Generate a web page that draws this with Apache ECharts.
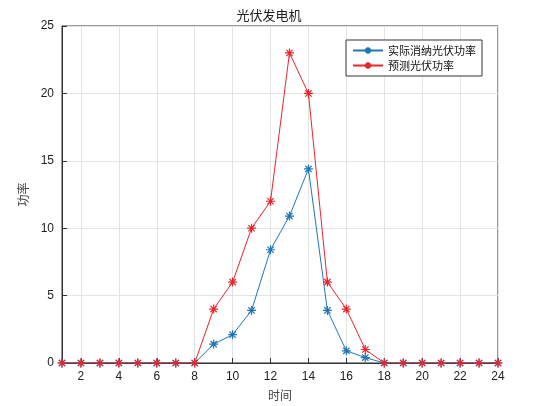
<!DOCTYPE html>
<html><head><meta charset="utf-8">
<script src="https://cdn.jsdelivr.net/npm/echarts@6/dist/echarts.min.js"></script>
<style>html,body{margin:0;padding:0;background:#fff}#main{width:538px;height:406px}</style>
</head><body><div id="main"></div>
<script>
var hours = [];
for (var h = 1; h <= 24; h++) hours.push(String(h));
var actual = [0,0,0,0,0,0,0,0,1.4,2.1,3.9,8.4,10.9,14.4,3.9,0.9,0.4,0,0,0,0,0,0,0];
var forecast = [0,0,0,0,0,0,0,0,4,6,10,12,23,20,6,4,1,0,0,0,0,0,0,0];

var even = function (i) { return (i + 1) % 2 === 0; };
var star = "path://M0,-5L0,5M-5,0L5,0M-3.5,-3.5L3.5,3.5M-3.5,3.5L3.5,-3.5";
var myChart = echarts.init(document.getElementById("main"));
myChart.setOption({
  animation: false,
  title: {
    text: "光伏发电机", left: "center", top: 4,
    textStyle: { fontSize: 13, fontWeight: "normal", color: "#222", fontFamily: "Noto Sans CJK SC" }
  },
  legend: {
    orient: "vertical", right: 56, top: 40,
    backgroundColor: "#fff", borderColor: "#333", borderWidth: 1, borderRadius: 0,
    padding: [5, 6], itemGap: 4, itemWidth: 30, itemHeight: 8,
    textStyle: { fontSize: 11, color: "#111", fontFamily: "Noto Sans CJK SC" },
    data: ["实际消纳光伏功率", "预测光伏功率"]
  },
  grid: { left: 62, right: 40, top: 26, bottom: 31, show: true, borderColor: "#333", borderWidth: 1 },
  xAxis: {
    type: "category", data: hours, boundaryGap: false,
    name: "时间", nameLocation: "middle", nameGap: 26,
    nameTextStyle: { fontSize: 12, color: "#444", fontFamily: "Noto Sans CJK SC" },
    axisLine: { lineStyle: { color: "#333" } },
    axisTick: { show: true, inside: true, interval: even, lineStyle: { color: "#333" } },
    axisLabel: { interval: even, color: "#222", fontSize: 12, margin: 8 },
    splitLine: { show: true, interval: even, lineStyle: { color: "#e3e3e3" } }
  },
  yAxis: {
    type: "value", min: 0, max: 25, interval: 5,
    name: "功率", nameLocation: "middle", nameGap: 28, nameRotate: 90,
    nameTextStyle: { fontSize: 12, color: "#444", fontFamily: "Noto Sans CJK SC" },
    axisLine: { show: true, lineStyle: { color: "#333" } },
    axisTick: { show: true, inside: true, lineStyle: { color: "#333" } },
    axisLabel: { color: "#222", fontSize: 12 },
    splitLine: { show: true, lineStyle: { color: "#e3e3e3" } }
  },
  series: [
    {
      name: "实际消纳光伏功率", type: "line", data: actual,
      symbol: star, symbolSize: 9,
      lineStyle: { color: "#1f77b4", width: 1 },
      itemStyle: { color: "#1f77b4", borderColor: "#1f77b4", borderWidth: 1.2 }
    },
    {
      name: "预测光伏功率", type: "line", data: forecast,
      symbol: star, symbolSize: 9,
      lineStyle: { color: "#e8252b", width: 1 },
      itemStyle: { color: "#e8252b", borderColor: "#e8252b", borderWidth: 1.2 }
    }
  ]
});
</script></body></html>
